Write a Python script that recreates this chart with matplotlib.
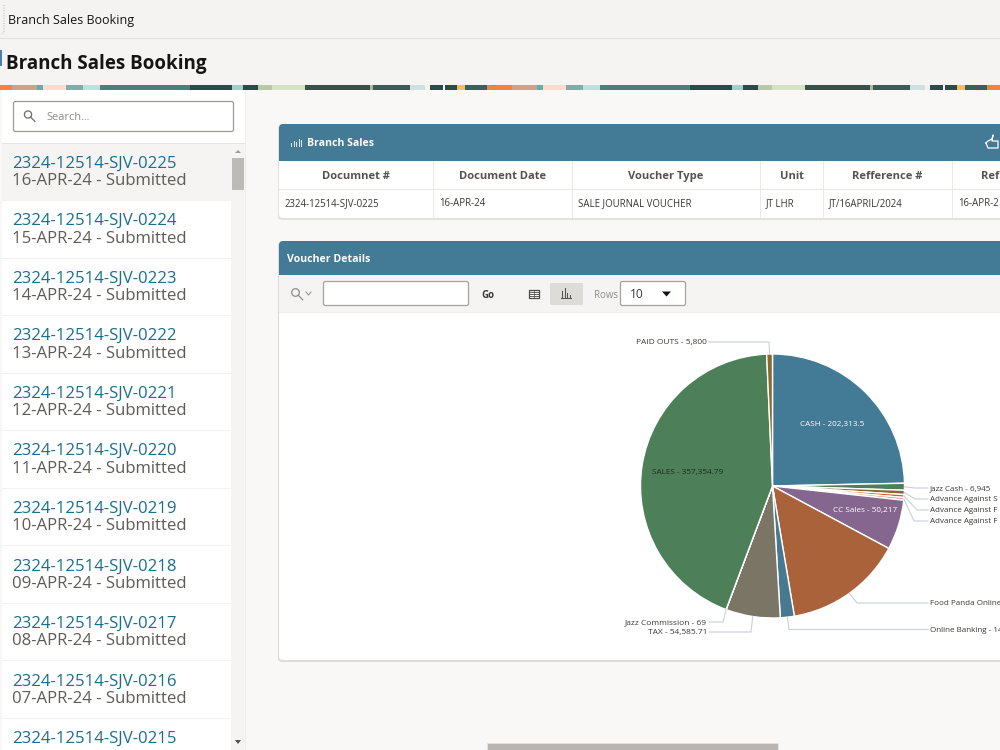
"""Branch Sales Booking page with the voucher pie chart."""
import matplotlib
matplotlib.use("Agg")
import matplotlib.pyplot as plt
import matplotlib.patches as mp
import numpy as np

plt.rcParams["font.family"] = ["Open Sans", "DejaVu Sans"]

# pie data, clockwise from 12 o'clock
slice_names = ["CASH", "Jazz Cash", "Advance S", "Advance F1", "Advance F2", "CC Sales",
               "Food Panda", "Online Banking", "TAX", "Jazz Commission", "SALES", "PAID OUTS"]
slice_values = [202313.5, 6945, 4300, 2900, 2700, 50217, 119000, 14000, 54585.71, 69, 357354.79, 5800]
slice_colors = ["#437A96", "#4D8058", "#7D6A3C", "#D2583A", "#E3A488", "#84668F",
                "#A9623A", "#477A90", "#7A7565", "#A9623A", "#4D8058", "#8A6A30"]

# list on the left
doc_ids = ["2324-12514-SJV-0225", "2324-12514-SJV-0224", "2324-12514-SJV-0223", "2324-12514-SJV-0222",
           "2324-12514-SJV-0221", "2324-12514-SJV-0220", "2324-12514-SJV-0219", "2324-12514-SJV-0218",
           "2324-12514-SJV-0217", "2324-12514-SJV-0216", "2324-12514-SJV-0215"]
doc_dates = ["16-APR-24", "15-APR-24", "14-APR-24", "13-APR-24", "12-APR-24", "11-APR-24",
             "10-APR-24", "09-APR-24", "08-APR-24", "07-APR-24"]

# table in the Branch Sales card
col_heads = ["Documnet #", "Document Date", "Voucher Type", "Unit", "Refference #", "Ref"]
col_cells = ["2324-12514-SJV-0225", "16-APR-24", "SALE JOURNAL VOUCHER", "JT LHR", "JT/16APRIL/2024", "16-APR-2"]
col_edges = [279, 433, 572, 760, 823, 952, 1028]

TEAL = "#437A96"
PAGE = "#F9F8F6"
BAR = "#F4F3F1"
INK = "#161513"
MUTED = "#5F5C58"
LEAD = "#C9D0D8"
LINK = "#1A6E8E"

fig = plt.figure(figsize=(10, 7.5), dpi=100, facecolor=PAGE)
ax = fig.add_axes([0, 0, 1, 1], zorder=0)
ax.set_xlim(0, 1000); ax.set_ylim(750, 0); ax.axis("off")


def box(a, x0, y0, x1, y1, fc, ec="none", lw=0, z=1):
    a.add_patch(mp.Rectangle((x0, y0), x1 - x0, y1 - y0, facecolor=fc, edgecolor=ec, linewidth=lw, zorder=z))


def rbox(a, x0, y0, x1, y1, fc, ec="none", lw=0, r=3, z=1):
    a.add_patch(mp.FancyBboxPatch((x0 + r, y0 + r), x1 - x0 - 2 * r, y1 - y0 - 2 * r,
                                  boxstyle=f"round,pad={r},rounding_size={r}",
                                  facecolor=fc, edgecolor=ec, linewidth=lw, zorder=z))


def lens(a, x, y, r, color):
    a.add_patch(mp.Circle((x, y), r, fill=False, edgecolor=color, linewidth=0.9, zorder=4))
    a.plot([x + r * 0.7, x + r * 1.9], [y + r * 0.7, y + r * 1.9], color=color, lw=0.9, zorder=4)


# top bars
box(ax, 0, 0, 1000, 38, BAR)
box(ax, 0, 38, 1000, 39, "#E0DEDB", z=2)
box(ax, 0, 39, 1000, 85, "#F5F4F2")
box(ax, 0, 50, 2, 66, "#4A7FB5", z=2)
ax.plot([4, 4, 1], [5, 33, 34], color="#B5B2AE", lw=0.7, ls=":", zorder=3)
ax.text(8, 20.5, "Branch Sales Booking", fontsize=9.0, color=INK, va="center", zorder=3)
ax.text(5.5, 63.5, "Branch Sales Booking", fontsize=13.5, color=INK, va="center", fontweight="bold", zorder=3)

# banner strip, one 500 px pattern drawn twice
strip = [(0, 12, "#F7803C"), (12, 37, "#C9A48C"), (37, 43, "#5FB0AC"), (43, 66, "#FCDCCF"),
         (66, 83, "#84ABA8"), (83, 100, "#BFE0DE"), (100, 190, "#4D7F7A"), (190, 232, "#2E4A48"),
         (232, 243, "#A8CCC8"), (243, 258, "#2E4A48"), (258, 272, "#B7C9A8"), (272, 305, "#D5E3C5"),
         (305, 370, "#3A4F48"), (370, 373, "#A9B8A0"), (373, 410, "#3F5A54"), (410, 425, "#CFE0E0"),
         (425, 430, "#F2F2EE"), (430, 443, "#2E4A48"), (443, 445, "#FFFFFF"), (445, 457, "#2E4A48"),
         (457, 465, "#F0C060"), (465, 487, "#3A5F5C"), (487, 500, "#F7803C")]
for off in (0, 500):
    for x0, x1, c in strip:
        box(ax, x0 + off, 85, x1 + off, 90, c, z=2)

# left panel
box(ax, 2, 90, 245, 750, "#FFFFFF")
box(ax, 245, 90, 246, 750, "#EFEEEC")
rbox(ax, 13.5, 101.5, 233.5, 131.5, "#FFFFFF", "#9E9B97", 0.9, r=2, z=2)
lens(ax, 28, 114.5, 3.6, "#6F6C68")
ax.text(46, 117, "Search...", fontsize=7.9, color="#8F8C88", va="center", zorder=3)
box(ax, 2, 143, 232, 201, "#F5F4F2", z=1)
box(ax, 2, 143, 245, 144, "#E6E4E1", z=2)
row_h = 57.55
for i, doc in enumerate(doc_ids):
    y = 163.5 + i * row_h
    ax.text(12.5, y, doc, fontsize=12.1, color=LINK, va="center", zorder=3)
    if i < len(doc_dates):
        ax.text(12.5, y + 17.5, f"{doc_dates[i]} - Submitted", fontsize=12.1, color=MUTED, va="center", zorder=3)
    if i:
        box(ax, 2, y - 21, 232, y - 20, "#F3F2F0", z=2)
box(ax, 231, 144, 245, 750, "#F5F4F2", z=2)
box(ax, 232, 158, 244, 190, "#BDBBB8", z=3)
ax.add_patch(mp.Polygon([[235, 153], [241, 153], [238, 150]], facecolor="#9E9B97", zorder=3))
ax.add_patch(mp.Polygon([[235, 740], [241, 740], [238, 744]], facecolor="#55524E", zorder=3))

# Branch Sales card
rbox(ax, 278, 125, 1012, 220, "#E3E1DE", r=4, z=1)
rbox(ax, 279, 124, 1012, 218, "#FFFFFF", r=4, z=2)
rbox(ax, 279, 124, 1012, 165, TEAL, r=4, z=3)
box(ax, 279, 161, 1012, 190, "#FFFFFF", z=3)
box(ax, 279, 189, 1000, 190, "#E8E6E3", z=4)
for x in col_edges[1:-1]:
    box(ax, x, 161, x + 0.8, 218, "#ECEAE7", z=4)
for x, h in zip(np.arange(291, 302, 2.5), [4, 6, 5, 8, 7]):
    box(ax, x, 147 - h, x + 1.4, 147, "#DDE8EE", z=5)
ax.text(307, 143.5, "Branch Sales", fontsize=7.6, color="#FFFFFF", va="center", fontweight="bold", zorder=5)
ax.plot([986, 988, 992, 993, 992, 998, 998, 988, 986], [143, 141, 139, 135, 141, 141, 148, 148, 143],
        color="#FFFFFF", lw=0.9, zorder=5)
for i, head in enumerate(col_heads):
    mid = (col_edges[i] + col_edges[i + 1]) / 2
    ax.text(mid, 176.5, head, fontsize=8, color="#55524E", ha="center", va="center",
            fontweight="bold", zorder=5)
    ax.text(col_edges[i] + 6, 204, col_cells[i], fontsize=6.9, color="#3A3835", va="center", zorder=5)

# Voucher Details card
rbox(ax, 278, 242, 1012, 662, "#DEDCD9", r=4, z=1)
rbox(ax, 279, 241, 1012, 660, "#FFFFFF", r=4, z=2)
rbox(ax, 279, 241, 1012, 280, TEAL, r=4, z=3)
box(ax, 279, 275, 1012, 312, "#F5F4F2", z=3)
box(ax, 279, 312, 1012, 313, "#EFEEEC", z=4)
ax.text(287, 259.5, "Voucher Details", fontsize=7.6, color="#FFFFFF", va="center", fontweight="bold", zorder=5)
lens(ax, 295.5, 292.5, 3.8, "#8F8C88")
ax.plot([306, 308.5, 311], [292, 295, 292], color="#8F8C88", lw=0.7, zorder=5)
rbox(ax, 323.5, 281.5, 468.5, 305.5, "#FFFFFF", "#A5A29E", 0.9, r=2, z=4)
ax.text(488, 295, "Go", fontsize=7.0, color="#3A3835", ha="center", va="center", fontweight="bold", zorder=5)
box(ax, 528.5, 290, 538.5, 298, "#FFFFFF", "#4A4744", 0.9, z=5)
for yy in (292, 294, 296):
    ax.plot([528.5, 538.5], [yy, yy], color="#4A4744", lw=0.6, zorder=6)
ax.plot([533.5, 533.5], [290, 298], color="#4A4744", lw=0.5, zorder=6)
rbox(ax, 550, 283, 583, 305, "#DEDCD9", r=1, z=4)
for x, h in zip([562, 564.5, 567, 569.5], [7, 10, 5, 3]):
    box(ax, x, 298 - h, x + 1.2, 298, "#55524E", z=5)
box(ax, 561, 298, 572, 298.7, "#55524E", z=5)
ax.text(606, 295, "Rows", fontsize=7.0, color="#8F8C88", ha="center", va="center", zorder=5)
rbox(ax, 620.5, 281.5, 685.5, 305.5, "#FFFFFF", "#A5A29E", 0.9, r=2, z=4)
ax.text(637, 294.5, "10", fontsize=8.6, color="#3A3835", ha="center", va="center", zorder=5)
ax.add_patch(mp.Polygon([[662, 291.5], [671, 291.5], [666.5, 296.5]], facecolor="#161513", zorder=5))

# sliver of the popup at the bottom edge
box(ax, 487, 743, 778, 750, "#B8B5B2", "#E8E6E3", 0.5, z=5)

# pie
cx, cy, rad = 772.5, 486, 132
pie_ax = fig.add_axes([(cx - rad) / 1000, 1 - (cy + rad) / 750, 2 * rad / 1000, 2 * rad / 750], zorder=1)
wedges, _ = pie_ax.pie(slice_values, colors=slice_colors, startangle=90, counterclock=False, radius=1,
                       wedgeprops=dict(edgecolor="#FFFFFF", linewidth=1.0))
pie_ax.set_xlim(-1, 1); pie_ax.set_ylim(-1, 1)
pie_ax.patch.set_alpha(0)

top = fig.add_axes([0, 0, 1, 1], zorder=2)
top.set_xlim(0, 1000); top.set_ylim(750, 0); top.axis("off"); top.patch.set_alpha(0)

# slice index, label text, elbow x, elbow y, line end x, text side
outside = [(11, "PAID OUTS - 5,800", 769, 342, 709, "r"),
           (9, "Jazz Commission - 69", 723, 622, 709, "r"),
           (8, "TAX - 54,585.71", 751, 632, 709, "r"),
           (7, "Online Banking - 14", 789, 629.5, 928, "l"),
           (6, "Food Panda Online", 857, 603, 928, "l"),
           (1, "Jazz Cash - 6,945", 915, 488, 928, "l"),
           (2, "Advance Against S", 915, 499, 928, "l"),
           (3, "Advance Against F", 917, 510, 928, "l"),
           (4, "Advance Against F", 914, 521, 928, "l")]
for idx, text, ex, ey, lx, side in outside:
    mid = np.deg2rad((wedges[idx].theta1 + wedges[idx].theta2) / 2)
    sx, sy = cx + rad * np.cos(mid), cy - rad * np.sin(mid)
    top.plot([sx, ex, lx], [sy, ey, ey], color=LEAD, lw=0.8, solid_joinstyle="round")
    if side == "r":
        top.text(lx - 2, ey + 0.5, text, fontsize=6.05, color="#3A3835", ha="right", va="center")
    else:
        top.text(lx + 2, ey + 0.5, text, fontsize=5.8, color="#3A3835", ha="left", va="center")

top.text(832, 424.5, "CASH - 202,313.5", fontsize=5.9, color="#FFFFFF", ha="center", va="center")
top.text(688, 472.5, "SALES - 357,354.79", fontsize=5.9, color="#1F2A22", ha="center", va="center")
top.text(865, 510.5, "CC Sales - 50,217", fontsize=5.9, color="#FFFFFF", ha="center", va="center")

fig.savefig("out.png", dpi=100, facecolor=PAGE)
plt.close(fig)
